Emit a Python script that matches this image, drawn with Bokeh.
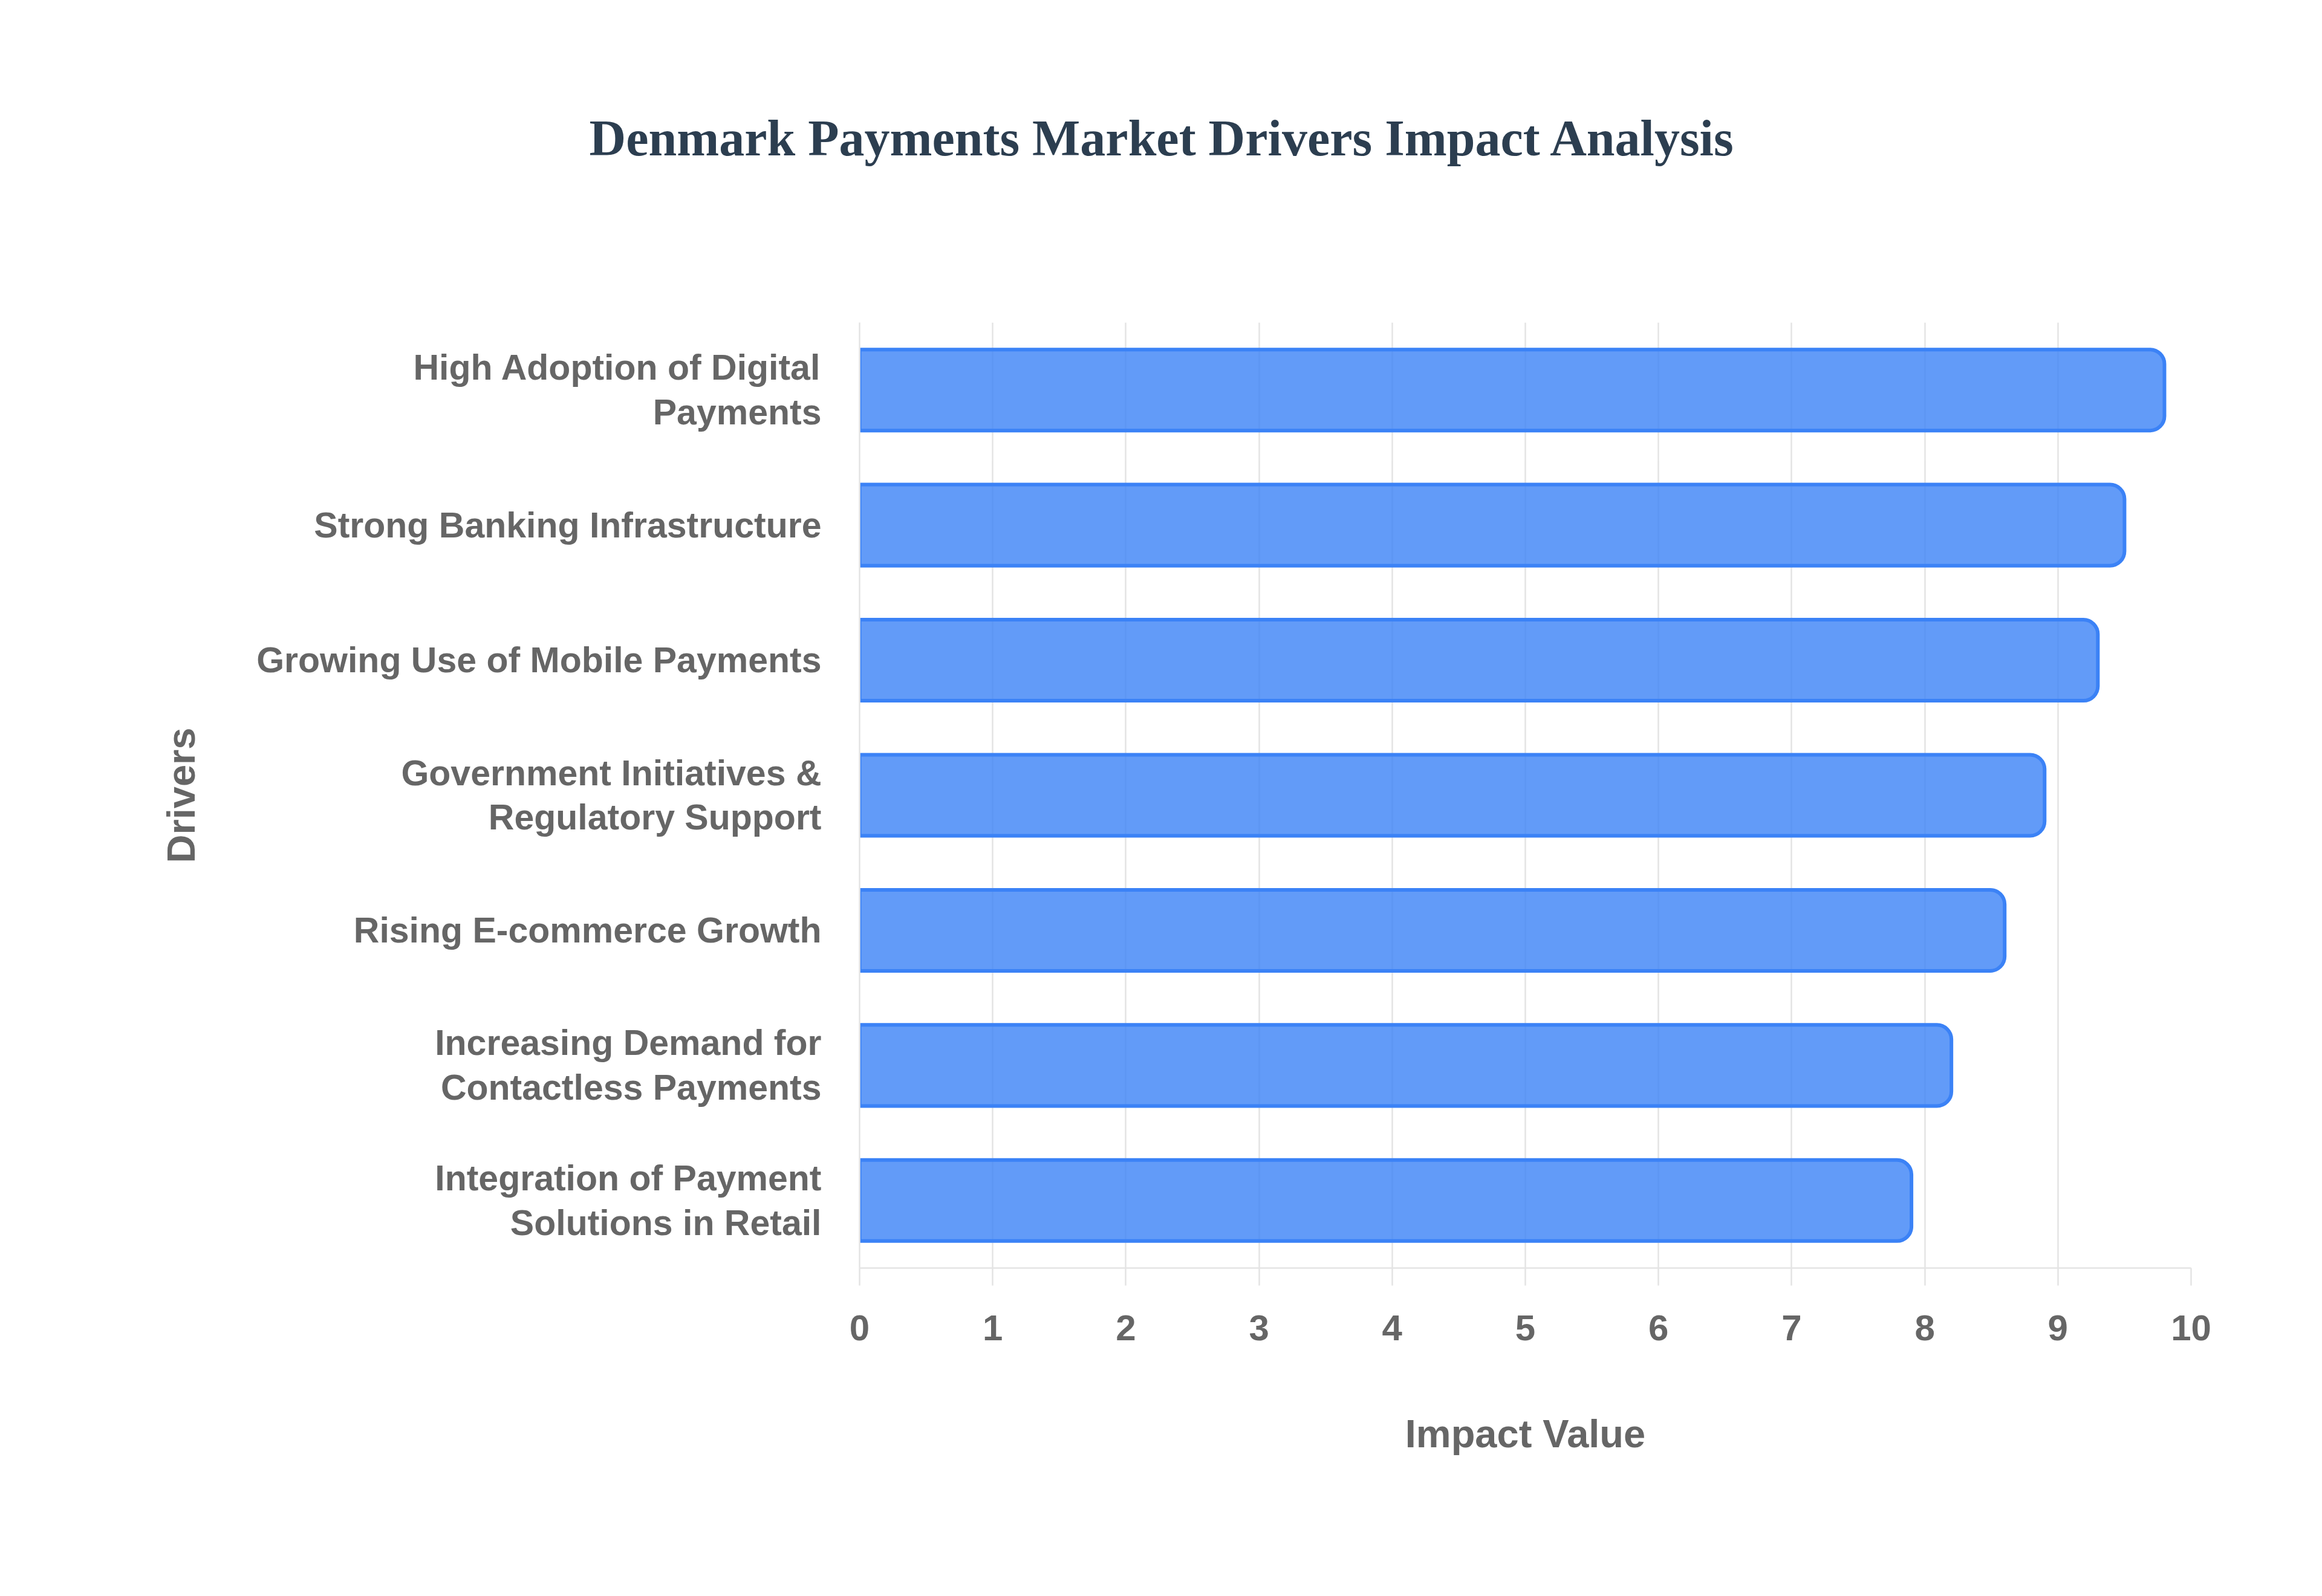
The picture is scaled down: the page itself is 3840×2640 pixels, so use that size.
from bokeh.plotting import figure
from bokeh.models import Range1d, FactorRange, FixedTicker, Title
from bokeh.embed import file_html
from bokeh.resources import INLINE

# ---- data ----
drivers = [
    "High Adoption of Digital\nPayments",
    "Strong Banking Infrastructure",
    "Growing Use of Mobile Payments",
    "Government Initiatives &\nRegulatory Support",
    "Rising E-commerce Growth",
    "Increasing Demand for\nContactless Payments",
    "Integration of Payment\nSolutions in Retail",
]
impact = [9.8, 9.5, 9.3, 8.9, 8.6, 8.2, 7.9]
x_ticks = [0, 1, 2, 3, 4, 5, 6, 7, 8, 9, 10]
title_text = "Denmark Payments Market Drivers Impact Analysis"
x_title = "Impact Value"
y_title = "Drivers"

# ---- layout ----
W, H = 3824, 2624
FL, FR, FT, FB = 1421, 3623, 533, 2097

grid_col = "#e4e4e4"
txt_col = "#666666"

p = figure(
    width=W, height=H,
    output_backend="svg", toolbar_location=None,
    x_range=Range1d(0, 10),
    y_range=FactorRange(factors=drivers[::-1], range_padding=0),
    min_border_left=FL, min_border_right=W - FR,
    min_border_top=FT, min_border_bottom=H - FB,
)
p.outline_line_color = None
p.background_fill_color = "white"
p.border_fill_color = "white"

p.hbar(
    y=drivers, left=0, right=impact, height=0.6,
    fill_color="#3b82f6", fill_alpha=0.8,
    line_color="#3b82f6", line_width=6,
    border_radius=(0, 24, 24, 0),
)

# grid
p.xgrid.grid_line_color = grid_col
p.xgrid.grid_line_width = 2.5
p.ygrid.grid_line_color = None

# x axis
xa = p.xaxis[0]
xa.ticker = FixedTicker(ticks=x_ticks)
xa.axis_line_color = grid_col
xa.axis_line_width = 2.5
xa.major_tick_in = 0
xa.major_tick_out = 29
xa.major_tick_line_color = grid_col
xa.major_tick_line_width = 2.5
xa.minor_tick_line_color = None
xa.major_label_text_font = "Liberation Sans"
xa.major_label_text_font_style = "bold"
xa.major_label_text_font_size = "60px"
xa.major_label_text_color = txt_col
xa.major_label_standoff = 49
xa.axis_label = x_title
xa.axis_label_text_font = "Liberation Sans"
xa.axis_label_text_font_style = "bold"
xa.axis_label_text_font_size = "65px"
xa.axis_label_text_color = txt_col
xa.axis_label_standoff = 115

# y axis
ya = p.yaxis[0]
ya.axis_line_color = grid_col
ya.axis_line_width = 2.5
ya.major_tick_line_color = None
ya.major_tick_in = 0
ya.major_tick_out = 0
ya.minor_tick_line_color = None
ya.major_label_text_font = "Liberation Sans"
ya.major_label_text_font_style = "bold"
ya.major_label_text_font_size = "59px"
ya.major_label_text_color = txt_col
ya.major_label_text_line_height = 1.12
ya.major_label_standoff = 63
ya.axis_label = y_title
ya.axis_label_text_font = "Liberation Sans"
ya.axis_label_text_font_style = "bold"
ya.axis_label_text_font_size = "65px"
ya.axis_label_text_color = txt_col
ya.axis_label_standoff = 85

# blank spacer between the frame and the title, then the title itself
p.add_layout(Title(text=" ", text_font_size="230px", text_line_height=1.0,
                   standoff=0, text_color="white"), "above")
p.add_layout(Title(
    text=title_text, align="left", offset=-447,
    vertical_align="bottom", standoff=0,
    text_font="Liberation Serif", text_font_style="bold",
    text_font_size="84px", text_color="#2c3e50",
), "above")

open("out.html", "w").write(file_html(p, INLINE))
